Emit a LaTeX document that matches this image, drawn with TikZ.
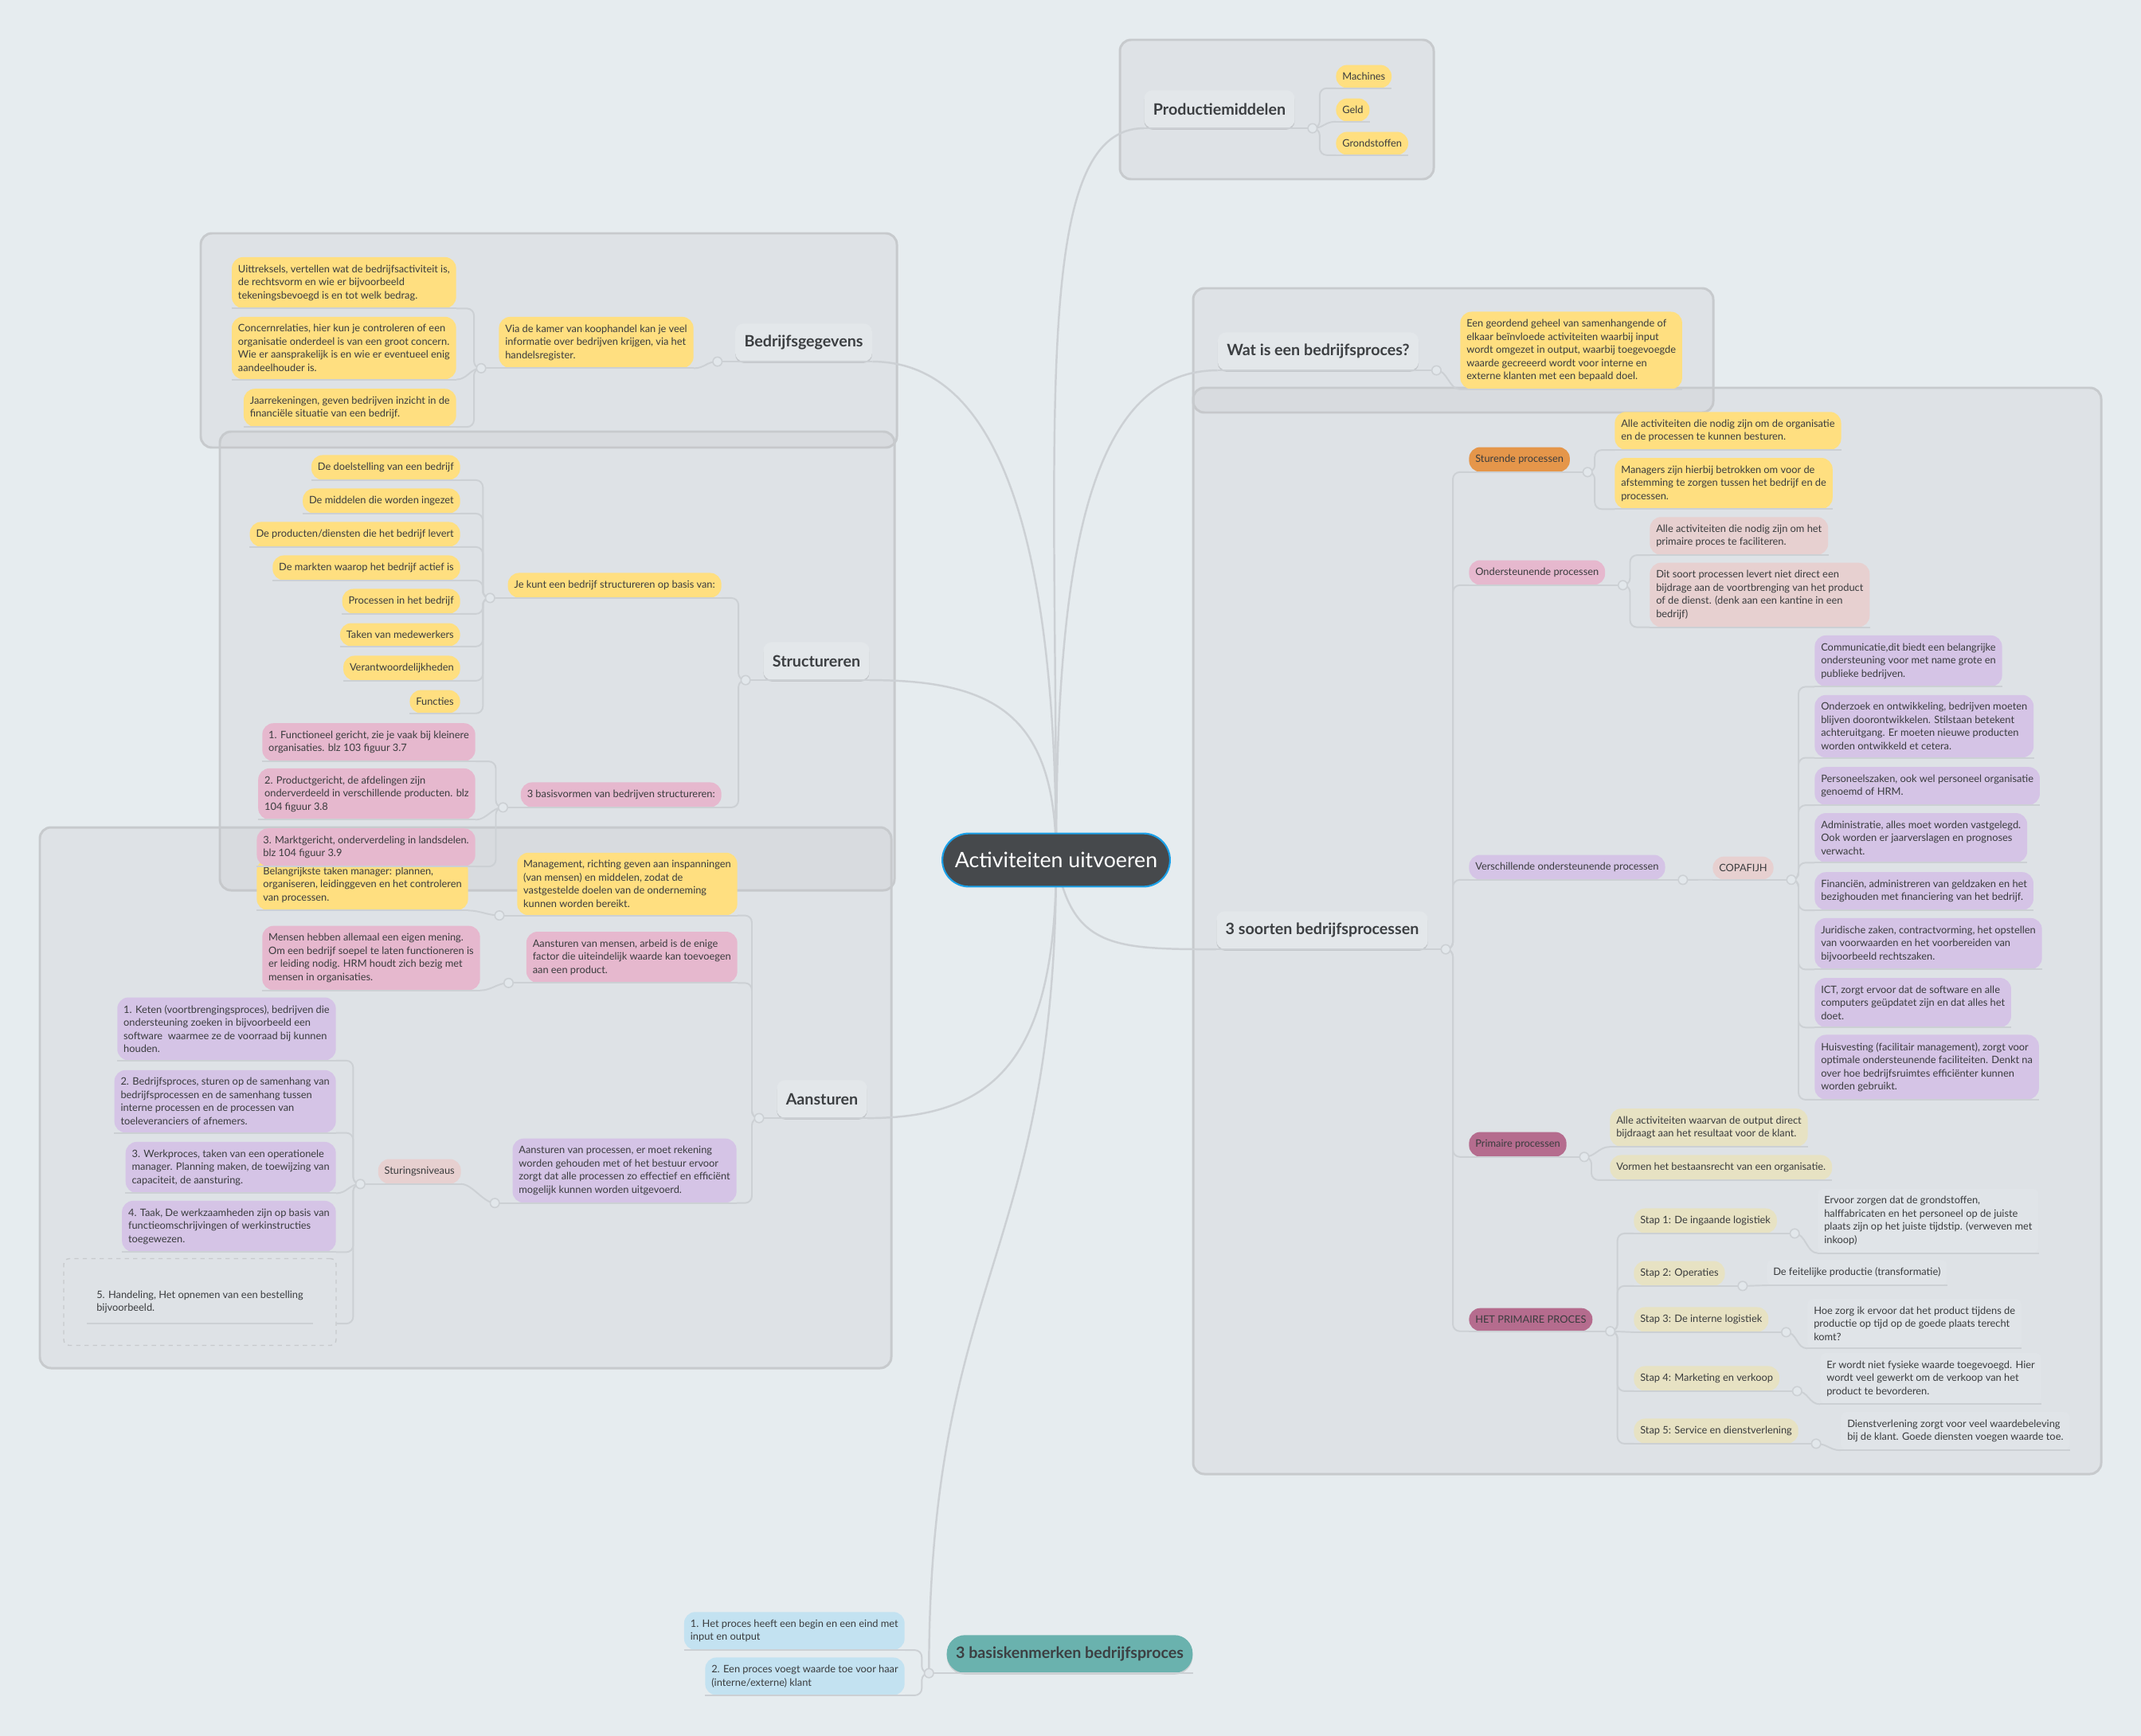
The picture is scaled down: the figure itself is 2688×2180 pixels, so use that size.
\documentclass[tikz,border=0pt]{standalone}
\usepackage{fontspec}
\setmainfont{Lato}
\usetikzlibrary{positioning,calc,shadows}

\definecolor{bgc}{RGB}{230,236,239}
\definecolor{grpfill}{RGB}{195,195,200}
\definecolor{grpline}{RGB}{199,202,205}
\definecolor{lnc}{RGB}{204,208,212}
\definecolor{txt}{RGB}{58,60,62}
\definecolor{toptxt}{RGB}{60,63,66}
\definecolor{topfill}{RGB}{227,231,234}
\definecolor{dotfill}{RGB}{226,231,235}
\definecolor{yel}{RGB}{255,223,128}
\definecolor{pnk}{RGB}{230,184,206}
\definecolor{sal}{RGB}{231,208,208}
\definecolor{pur}{RGB}{213,196,230}
\definecolor{org}{RGB}{229,150,74}
\definecolor{mau}{RGB}{181,108,142}
\definecolor{bei}{RGB}{231,226,195}
\definecolor{lbl}{RGB}{195,226,241}
\definecolor{tea}{RGB}{106,178,174}
\definecolor{ctr}{RGB}{70,73,76}
\definecolor{ctrb}{RGB}{26,160,232}
\definecolor{descfill}{RGB}{224,228,232}

\pgfdeclarelayer{groups}
\pgfdeclarelayer{lines}
\pgfsetlayers{groups,lines,main}

\tikzset{
  grp/.style={draw=grpline,line width=1.7pt,rounded corners=8pt,fill=grpfill,fill opacity=0.22},
  uline/.style={draw=lnc,line width=1.1pt},
  branch/.style={draw=lnc,line width=1.1pt,rounded corners=5pt},
  mainline/.style={draw=lnc,line width=1.4pt},
  dot/.style={circle,inner sep=0pt,minimum size=6.5pt,fill=dotfill,draw=lnc,line width=0.9pt},
  under/.style={append after command={(\tikzlastnode.south west) edge[uline] (\tikzlastnode.south east)}},
  kid/.style={under,rounded corners=8pt,inner xsep=4.5pt,inner ysep=5.5pt,align=left,text=txt,
    font=\fontsize{7.3}{9.4}\selectfont},
  yel/.style={kid,fill=yel},
  pnk/.style={kid,fill=pnk},
  sal/.style={kid,fill=sal},
  pur/.style={kid,fill=pur},
  org/.style={kid,fill=org},
  mau/.style={kid,fill=mau},
  bei/.style={kid,fill=bei},
  lbl/.style={kid,fill=lbl},
  desc/.style={kid,fill=descfill,rounded corners=4pt},
  topic/.style={under,fill=topfill,rounded corners=6pt,inner xsep=6.5pt,inner ysep=6pt,minimum height=27pt,
    text=toptxt,font=\fontsize{11.2}{13}\selectfont\bfseries,
    drop shadow={shadow xshift=0pt,shadow yshift=-1.2pt,opacity=0.12,fill=black}},
  ctrnode/.style={fill=ctr,draw=ctrb,line width=1.2pt,rounded corners=19pt,minimum height=38pt,
    inner xsep=9pt,text=white,font=\fontsize{15.2}{17}\selectfont},
  handbox/.style={draw=grpline,dashed,line width=0.8pt,rounded corners=4pt,minimum width=6.84cm,
    minimum height=2.18cm,align=left,text=txt,font=\fontsize{7.3}{9.4}\selectfont}
}

% dot at the near end of a parent's underline
\newcommand{\dotL}[1]{\draw[uline] (#1.south west) -- ++(-22,0) node[dot] (#1D) {};}
\newcommand{\dotR}[1]{\draw[uline] (#1.south east) -- ++(22,0) node[dot] (#1D) {};}
% branches from a dot to a child
\newcommand{\trunkL}[2]{\draw[branch] (#1.center) -- ++(-9,0) |- (#2.south east);}
\newcommand{\trunkR}[2]{\draw[branch] (#1.center) -- ++(9,0) |- (#2.south west);}
\newcommand{\swingL}[2]{\draw[branch] (#1.center) .. controls +(-14,0) and +(14,0) .. (#2.south east);}
\newcommand{\swingR}[2]{\draw[branch] (#1.center) .. controls +(14,0) and +(-14,0) .. (#2.south west);}

\begin{document}
\begin{tikzpicture}[x=0.02cm,y=-0.02cm]
\useasboundingbox (0,0) rectangle (2688,2180);
\begin{pgfonlayer}{groups}
\fill[bgc] (0,0) rectangle (2688,2180);
\draw[grp] (1406,50) rectangle (1800,225);
\draw[grp] (252,293) rectangle (1126,562);
\draw[grp] (276,542) rectangle (1123,1118);
\draw[grp] (50,1039) rectangle (1119,1718);
\draw[grp] (1498,362) rectangle (2151,518);
\draw[grp] (1498,487) rectangle (2638,1851);
\end{pgfonlayer}

\node[ctrnode] (act) at (1326,1080) {Activiteiten uitvoeren};

\node[topic] (pm) at (1531,137) {Productiemiddelen};
\node[topic] (bg) at (1009,430) {Bedrijfsgegevens};
\node[topic] (st) at (1025,830) {Structureren};
\node[topic] (an) at (1032,1380) {Aansturen};
\node[topic] (wat) at (1655,441) {Wat is een bedrijfsproces?};
\node[topic] (soort) at (1660,1168) {3 soorten bedrijfsprocessen};
\node[topic,fill=tea,rounded corners=13pt] (bk) at (1343,2077) {3 basiskenmerken bedrijfsproces};

% Productiemiddelen
\node[yel,anchor=west] (mach) at (1677,96) {Machines};
\node[yel,anchor=west] (geld) at (1677,138) {Geld};
\node[yel,anchor=west] (grond) at (1677,180) {Grondstoffen};

% Bedrijfsgegevens
\node[yel,anchor=east] (via) at (871,430) {Via de kamer van koophandel kan je veel\\informatie over bedrijven krijgen, via het\\handelsregister.};
\node[yel,anchor=east] (uit) at (573,355) {Uittreksels, vertellen wat de bedrijfsactiviteit is,\\de rechtsvorm en wie er bijvoorbeeld\\tekeningsbevoegd is en tot welk bedrag.};
\node[yel,anchor=east] (conc) at (573,437) {Concernrelaties, hier kun je controleren of een\\organisatie onderdeel is van een groot concern.\\Wie er aansprakelijk is en wie er eventueel enig\\aandeelhouder is.};
\node[yel,anchor=east] (jaar) at (573,512) {Jaarrekeningen, geven bedrijven inzicht in de\\financiële situatie van een bedrijf.};

% Structureren
\node[yel,anchor=east] (jk) at (906,735) {Je kunt een bedrijf structureren op basis van:};
\node[yel,anchor=east] (jk1) at (578,587) {De doelstelling van een bedrijf};
\node[yel,anchor=east] (jk2) at (578,629) {De middelen die worden ingezet};
\node[yel,anchor=east] (jk3) at (578,671) {De producten/diensten die het bedrijf levert};
\node[yel,anchor=east] (jk4) at (578,713) {De markten waarop het bedrijf actief is};
\node[yel,anchor=east] (jk5) at (578,755) {Processen in het bedrijf};
\node[yel,anchor=east] (jk6) at (578,797) {Taken van medewerkers};
\node[yel,anchor=east] (jk7) at (578,839) {Verantwoordelijkheden};
\node[yel,anchor=east] (jk8) at (578,881) {Functies};
\node[pnk,anchor=east] (bv) at (906,998) {3 basisvormen van bedrijven structureren:};
\node[pnk,anchor=east] (bv1) at (597,932) {1. Functioneel gericht, zie je vaak bij kleinere\\organisaties. blz 103 figuur 3.7};
\node[pnk,anchor=east] (bv2) at (597,997) {2. Productgericht, de afdelingen zijn\\onderverdeeld in verschillende producten. blz\\104 figuur 3.8};

% Aansturen
\node[yel,anchor=east] (man) at (926,1110) {Management, richting geven aan inspanningen\\(van mensen) en middelen, zodat de\\vastgestelde doelen van de onderneming\\kunnen worden bereikt.};
\node[yel,anchor=east] (bel) at (588,1111) {Belangrijkste taken manager: plannen,\\organiseren, leidinggeven en het controleren\\van processen.};
\node[pnk,anchor=east] (bv3) at (597,1064) {3. Marktgericht, onderverdeling in landsdelen.\\blz 104 figuur 3.9};
\node[pnk,anchor=east] (am) at (926,1202) {Aansturen van mensen, arbeid is de enige\\factor die uiteindelijk waarde kan toevoegen\\aan een product.};
\node[pnk,anchor=east] (mh) at (603,1203) {Mensen hebben allemaal een eigen mening.\\Om een bedrijf soepel te laten functioneren is\\er leiding nodig. HRM houdt zich bezig met\\mensen in organisaties.};
\node[pur,anchor=east] (ap) at (925,1470) {Aansturen van processen, er moet rekening\\worden gehouden met of het bestuur ervoor\\zorgt dat alle processen zo effectief en efficiënt\\mogelijk kunnen worden uitgevoerd.};
\node[sal,anchor=east] (sn) at (579,1471) {Sturingsniveaus};
\node[pur,anchor=east] (sn1) at (422,1292) {1. Keten (voortbrengingsproces), bedrijven die\\ondersteuning zoeken in bijvoorbeeld een\\software\ \ waarmee ze de voorraad bij kunnen\\houden.};
\node[pur,anchor=east] (sn2) at (422,1383) {2. Bedrijfsproces, sturen op de samenhang van\\bedrijfsprocessen en de samenhang tussen\\interne processen en de processen van\\toeleveranciers of afnemers.};
\node[pur,anchor=east] (sn3) at (422,1466) {3. Werkproces, taken van een operationele\\manager. Planning maken, de toewijzing van\\capaciteit, de aansturing.};
\node[pur,anchor=east] (sn4) at (422,1540) {4. Taak, De werkzaamheden zijn op basis van\\functieomschrijvingen of werkinstructies\\toegewezen.};
\node[handbox] (sn5) at (251,1635) {5. Handeling, Het opnemen van een bestelling\\bijvoorbeeld.};
\draw[uline] ($(sn5.south west)+(30,-28)$) -- ($(sn5.south east)+(-30,-28)$);

% Wat is een bedrijfsproces?
\node[yel,anchor=west] (geo) at (1833,440) {Een geordend geheel van samenhangende of\\elkaar beïnvloede activiteiten waarbij input\\wordt omgezet in output, waarbij toegevoegde\\waarde gecreeerd wordt voor interne en\\externe klanten met een bepaald doel.};

% 3 soorten bedrijfsprocessen
\node[org,anchor=west] (stu) at (1844,577) {Sturende processen};
\node[yel,anchor=west] (stu1) at (2027,541) {Alle activiteiten die nodig zijn om de organisatie\\en de processen te kunnen besturen.};
\node[yel,anchor=west] (stu2) at (2027,607) {Managers zijn hierbij betrokken om voor de\\afstemming te zorgen tussen het bedrijf en de\\processen.};
\node[pnk,anchor=west] (ond) at (1844,719) {Ondersteunende processen};
\node[sal,anchor=west] (ond1) at (2071,673) {Alle activiteiten die nodig zijn om het\\primaire proces te faciliteren.};
\node[sal,anchor=west] (ond2) at (2071,747) {Dit soort processen levert niet direct een\\bijdrage aan de voortbrenging van het product\\of de dienst. (denk aan een kantine in een\\bedrijf)};
\node[pur,anchor=west] (ver) at (1844,1089) {Verschillende ondersteunende processen};
\node[sal,anchor=west] (cop) at (2150,1090) {COPAFIJH};
\node[pur,anchor=west] (c1) at (2278,830) {Communicatie,dit biedt een belangrijke\\ondersteuning voor met name grote en\\publieke bedrijven.};
\node[pur,anchor=west] (c2) at (2278,912) {Onderzoek en ontwikkeling, bedrijven moeten\\blijven doorontwikkelen. Stilstaan betekent\\achteruitgang. Er moeten nieuwe producten\\worden ontwikkeld et cetera.};
\node[pur,anchor=west] (c3) at (2278,987) {Personeelszaken, ook wel personeel organisatie\\genoemd of HRM.};
\node[pur,anchor=west] (c4) at (2278,1052) {Administratie, alles moet worden vastgelegd.\\Ook worden er jaarverslagen en prognoses\\verwacht.};
\node[pur,anchor=west] (c5) at (2278,1119) {Financiën, administreren van geldzaken en het\\bezighouden met financiering van het bedrijf.};
\node[pur,anchor=west] (c6) at (2278,1185) {Juridische zaken, contractvorming, het opstellen\\van voorwaarden en het voorbereiden van\\bijvoorbeeld rechtszaken.};
\node[pur,anchor=west] (c7) at (2278,1259) {ICT, zorgt ervoor dat de software en alle\\computers geüpdatet zijn en dat alles het\\doet.};
\node[pur,anchor=west] (c8) at (2278,1340) {Huisvesting (facilitair management), zorgt voor\\optimale ondersteunende faciliteiten. Denkt na\\over hoe bedrijfsruimtes efficiënter kunnen\\worden gebruikt.};
\node[mau,anchor=west] (pri) at (1844,1437) {Primaire processen};
\node[bei,anchor=west] (pri1) at (2021,1416) {Alle activiteiten waarvan de output direct\\bijdraagt aan het resultaat voor de klant.};
\node[bei,anchor=west] (pri2) at (2021,1466) {Vormen het bestaansrecht van een organisatie.};
\node[mau,anchor=west] (hpp) at (1844,1657) {HET PRIMAIRE PROCES};
\node[bei,anchor=west] (s1) at (2051,1533) {Stap 1: De ingaande logistiek};
\node[bei,anchor=west] (s2) at (2051,1599) {Stap 2: Operaties};
\node[bei,anchor=west] (s3) at (2051,1657) {Stap 3: De interne logistiek};
\node[bei,anchor=west] (s4) at (2051,1731) {Stap 4: Marketing en verkoop};
\node[bei,anchor=west] (s5) at (2051,1797) {Stap 5: Service en dienstverlening};
\node[desc,anchor=west] (d1) at (2282,1533) {Ervoor zorgen dat de grondstoffen,\\halffabricaten en het personeel op de juiste\\plaats zijn op het juiste tijdstip. (verweven met\\inkoop)};
\node[desc,anchor=west] (d2) at (2218,1598) {De feitelijke productie (transformatie)};
\node[desc,anchor=west] (d3) at (2269,1662) {Hoe zorg ik ervoor dat het product tijdens de\\productie op tijd op de goede plaats terecht\\komt?};
\node[desc,anchor=west] (d4) at (2285,1731) {Er wordt niet fysieke waarde toegevoegd. Hier\\wordt veel gewerkt om de verkoop van het\\product te bevorderen.};
\node[desc,anchor=west] (d5) at (2311,1797) {Dienstverlening zorgt voor veel waardebeleving\\bij de klant. Goede diensten voegen waarde toe.};

% 3 basiskenmerken
\node[lbl,anchor=east] (bk1) at (1136,2048) {1. Het proces heeft een begin en een eind met\\input en output};
\node[lbl,anchor=east] (bk2) at (1136,2105) {2. Een proces voegt waarde toe voor haar\\(interne/externe) klant};

% dots
\dotR{pm} \dotL{bg} \dotL{via} \dotL{st} \dotL{jk} \dotL{bv}
\dotL{an} \dotL{man} \dotL{am} \dotL{ap} \dotL{sn}
\dotR{wat} \dotR{soort} \dotR{stu} \dotR{ond} \dotR{ver} \dotR{cop}
\dotR{pri} \dotR{hpp} \dotR{s1} \dotR{s2} \dotR{s3} \dotR{s4} \dotR{s5}
\dotL{bk}

\begin{pgfonlayer}{lines}
% from the central topic
\draw[mainline] (act.center) .. controls +(0,-560) and +(-140,0) .. (pm.south west);
\draw[mainline] (act.center) .. controls +(0,-350) and +(-170,0) .. (wat.south west);
\draw[mainline] (act.center) .. controls +(20,110) and +(-130,0) .. (soort.south west);
\draw[mainline] (act.center) .. controls +(0,-400) and +(160,0) .. (bg.south east);
\draw[mainline] (act.center) .. controls +(0,-180) and +(160,0) .. (st.south east);
\draw[mainline] (act.center) .. controls +(0,250) and +(160,0) .. (an.south east);
\draw[mainline] (act.center) .. controls +(0,500) and +(0,-500) .. (bkD.center);
% Productiemiddelen
\trunkR{pmD}{mach} \swingR{pmD}{geld} \trunkR{pmD}{grond}
% Bedrijfsgegevens
\swingL{bgD}{via}
\trunkL{viaD}{uit} \swingL{viaD}{conc} \trunkL{viaD}{jaar}
% Structureren
\trunkL{stD}{jk} \trunkL{stD}{bv}
\trunkL{jkD}{jk1} \trunkL{jkD}{jk2} \trunkL{jkD}{jk3} \trunkL{jkD}{jk4}
\trunkL{jkD}{jk5} \trunkL{jkD}{jk6} \trunkL{jkD}{jk7} \trunkL{jkD}{jk8}
\trunkL{bvD}{bv1} \swingL{bvD}{bv2} \trunkL{bvD}{bv3}
% Aansturen
\trunkL{anD}{man} \trunkL{anD}{am} \trunkL{anD}{ap}
\swingL{manD}{bel} \swingL{amD}{mh} \swingL{apD}{sn}
\trunkL{snD}{sn1} \trunkL{snD}{sn2} \swingL{snD}{sn3} \trunkL{snD}{sn4}
\draw[branch] (snD.center) -- ++(-9,0) |- ($(sn5.south east)+(0,-28)$);
% Wat is een bedrijfsproces?
\swingR{watD}{geo}
% 3 soorten bedrijfsprocessen
\trunkR{soortD}{stu} \trunkR{soortD}{ond} \trunkR{soortD}{ver} \trunkR{soortD}{pri} \trunkR{soortD}{hpp}
\trunkR{stuD}{stu1} \trunkR{stuD}{stu2}
\trunkR{ondD}{ond1} \trunkR{ondD}{ond2}
\swingR{verD}{cop}
\trunkR{copD}{c1} \trunkR{copD}{c2} \trunkR{copD}{c3} \trunkR{copD}{c4}
\trunkR{copD}{c5} \trunkR{copD}{c6} \trunkR{copD}{c7} \trunkR{copD}{c8}
\swingR{priD}{pri1} \trunkR{priD}{pri2}
\trunkR{hppD}{s1} \trunkR{hppD}{s2} \swingR{hppD}{s3} \trunkR{hppD}{s4} \trunkR{hppD}{s5}
\swingR{s1D}{d1} \swingR{s2D}{d2} \swingR{s3D}{d3} \swingR{s4D}{d4} \swingR{s5D}{d5}
% 3 basiskenmerken
\trunkL{bkD}{bk1} \trunkL{bkD}{bk2}
\end{pgfonlayer}
\end{tikzpicture}
\end{document}
